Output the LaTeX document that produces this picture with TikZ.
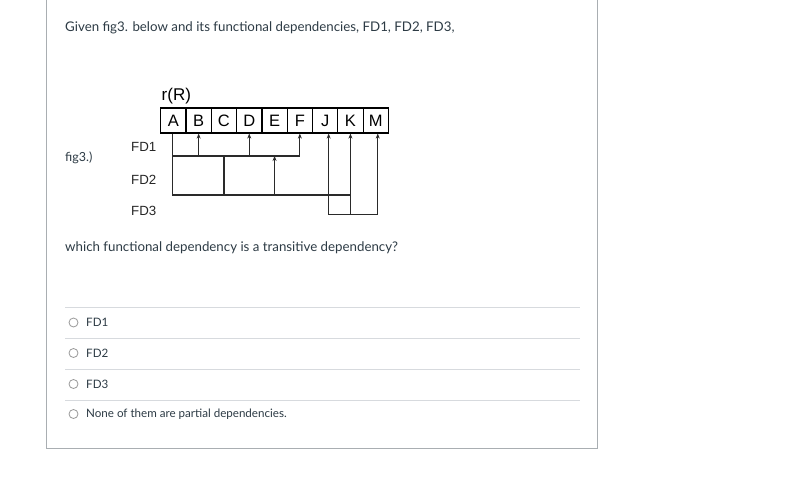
\documentclass[tikz,border=0pt]{standalone}
\usepackage{fontspec}
\setmainfont{Lato}
\newfontfamily\arial{Liberation Sans}
\usetikzlibrary{arrows.meta}
\definecolor{txt}{HTML}{2D3B45}
\definecolor{frame}{HTML}{A9AEB2}
\definecolor{sep}{HTML}{D7DADE}
\definecolor{ln}{HTML}{2A2A2A}
\tikzset{
  body/.style={anchor=base west, inner sep=0pt, text=txt, font=\fontsize{13.3}{15}\selectfont},
  opt/.style={anchor=west, inner sep=0pt, text=txt, font=\fontsize{11.6}{13}\selectfont},
  radio/.style={circle, draw=gray!80, line width=0.8pt, minimum size=9pt, inner sep=0pt},
  cell/.style={draw=black, line width=1.2pt, minimum width=25.3pt, minimum height=25pt, inner sep=0pt, font=\arial\fontsize{16.5}{18}\selectfont},
  fdlab/.style={anchor=base west, inner sep=0pt, font=\arial\fontsize{13.3}{15}\selectfont, text=black!85},
  wire/.style={draw=ln, line width=1.2pt},
  arr/.style={wire, -{Stealth[length=5pt,width=4pt]}},
}
\begin{document}
\begin{tikzpicture}[x=1pt,y=-1pt]
\useasboundingbox (0,0) rectangle (805,481);
\fill[white] (0,0) rectangle (805,481);
% outer frame
\draw[frame, line width=1pt] (46.7,0) -- (46.7,448.3) -- (597.3,448.3) -- (597.3,0);
% texts
\node[body] (t1) at (65,31.5) {Given fig3. below and its functional dependencies, FD1, FD2, FD3,};
\node[body, font=\fontsize{12.5}{14}\selectfont] (fig) at (65,161.5) {fig3.)};
\node[body] (q) at (65,251.5) {which functional dependency is a transitive dependency?};
% relation
\node[anchor=base west, inner sep=0pt, font=\arial\fontsize{17}{19}\selectfont] (rr) at (161.5,101) {r(R)};
\foreach \n [count=\i from 0] in {A,B,C,D,E,F,J,K,M}{
  \node[cell] (\n) at ({160.7+25.3*(\i+0.5)},120.5) {\n};
}
\node[fdlab] (fd1) at (131,152) {FD1};
\node[fdlab] (fd2) at (131,185) {FD2};
\node[fdlab] (fd3) at (131,215) {FD3};
\coordinate (l1) at (0,156);
\coordinate (l2) at (0,195);
\coordinate (l3) at (0,214.5);
\coordinate (Jx) at ([xshift=3.5pt]J.south);
\coordinate (Mx) at ([xshift=2pt]M.south);
\coordinate (Ax) at ([xshift=-0.6pt]A.south);
% FD1
\draw[wire] (Ax) -- (Ax|-l1) -- (F|-l1);
\draw[arr] (B|-l1) -- (B.south);
\draw[arr] (D|-l1) -- (D.south);
\draw[arr] (F|-l1) -- (F.south);
% FD2
\draw[wire] (Ax|-l1) -- (Ax|-l2) -- (K|-l2);
\draw[wire] (C|-l1) -- (C|-l2);
\draw[arr] (E|-l2) -- (E|-l1);
% FD3
\draw[arr] (Jx|-l3) -- (Jx);
\draw[arr] (K|-l3) -- (K.south);
\draw[arr] (Mx|-l3) -- (Mx);
\draw[wire] (Jx|-l3) -- (Mx|-l3);
% options
\foreach \y in {307.3,338.3,369.3,400.3}{\draw[sep, line width=0.8pt] (65,\y) -- (580,\y);}
\node[radio] (r1) at (73.5,322.5) {};
\node[radio] (r2) at (73.5,353) {};
\node[radio] (r3) at (73.5,384) {};
\node[radio] (r4) at (73.5,414) {};
\node[opt] (o1) at (86,322.5) {FD1};
\node[opt] (o2) at (86,353) {FD2};
\node[opt] (o3) at (86,384) {FD3};
\node[opt] (o4) at (86,414) {None of them are partial dependencies.};
\end{tikzpicture}
\end{document}
